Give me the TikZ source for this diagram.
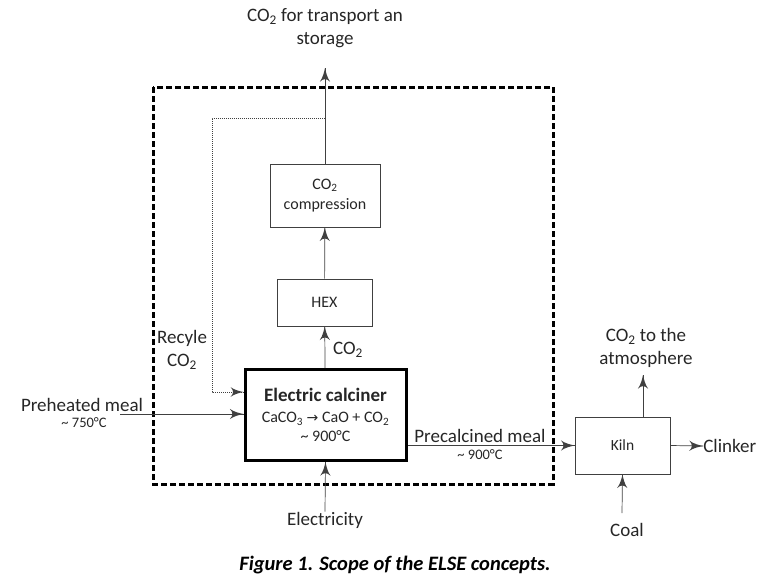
\documentclass[tikz,border=0pt]{standalone}
\usepackage{fontspec}
\setmainfont{Carlito}
\newfontfamily\symfont{DejaVu Sans}
\usetikzlibrary{arrows}
\usetikzlibrary{decorations.markings}
\usetikzlibrary{positioning}
\tikzset{->/.style = {decoration={markings,
                                  mark=at position 1 with {\arrow[scale=2.8]{latex'}}},
                      postaction={decorate}}}
\tikzset{unit/.style = {draw, rectangle, inner sep = 0, line width = 0.7pt,
                        font = \fontsize{16}{20}\selectfont, align = center}}
\tikzset{lbl/.style = {inner sep = 0, font = \fontsize{19}{23}\selectfont, align = center}}
\tikzset{temp/.style = {inner sep = 0, font = \fontsize{14.5}{17}\selectfont}}
\newcommand{\cotwo}{CO\textsubscript{2}}

\begin{document}
\begin{tikzpicture}[x=1pt, y=-1pt, line width=0.7pt, draw=black!75, text=black!85]
      \useasboundingbox (0,0) rectangle (768,584);
      % system boundary
      \draw [line width=3pt, draw=black, dash pattern=on 6pt off 3pt] (153,87) rectangle (553,484);
      % units
      \node [unit, line width=3pt, draw=black, minimum width=161, minimum height=91] (calc) at (325.5,415)
            {{\fontsize{19}{21}\selectfont\bfseries Electric calciner}\\[1pt]
             CaCO\textsubscript{3} {\symfont\fontsize{14}{16}\selectfont →} CaO + \cotwo\\[-1pt]
             \textasciitilde\ 900°C};
      \node [unit, minimum width=95, minimum height=47] (hex) at (324.5,302.5) {HEX};
      \node [unit, minimum width=110, minimum height=63] (comp) at (325,195.5) {\cotwo\\compression};
      \node [unit, minimum width=95, minimum height=57, font=\fontsize{15.5}{18}\selectfont] (kiln) at (622.5,445.5) {Kiln};
      % labels
      \node [lbl] (out) at (325,28) {\cotwo\ for transport an\\storage};
      \node [lbl] (recycle) at (182,350) {Recyle\\\cotwo};
      \node [lbl] (gas) at (348,350) {\cotwo};
      \node [lbl] (pre) at (82,405) {Preheated meal};
      \node [temp] (pretemp) at (84,423) {\textasciitilde\ 750°C};
      \node [lbl] (prec) at (480,436) {Precalcined meal};
      \node [temp] (prectemp) at (480,455) {\textasciitilde\ 900°C};
      \node [lbl] (atm) at (646,348) {\cotwo\ to the\\atmosphere};
      \node [lbl, anchor=west] (clinker) at (703,446) {Clinker};
      \node [lbl] (coal) at (627,530) {Coal};
      \node [lbl] (elec) at (325,520) {Electricity};
      \node [inner sep=0, font=\fontsize{20.5}{24}\selectfont\bfseries\itshape, text=black] (caption) at (395,565)
            {Figure 1. Scope of the ELSE concepts.};
      % free ends
      \coordinate (top) at (325,68);
      \coordinate (split) at (325,118);
      \coordinate (turn) at (212,392);
      \coordinate (feed) at (120,414);
      \coordinate (stack) at (643,375);
      \coordinate (fuel) at (622,513);
      % streams
      \draw [->] (calc) -- (hex);
      \draw [->] (hex) -- (comp);
      \draw [->] (comp) -- (top);
      \draw [->, line width=0.6pt, dash pattern=on 1pt off 1pt] (split) -| (turn) -- (turn -| calc.west);
      \draw [->] (feed) -- (feed -| calc.west);
      \draw [->] (kiln.west -| calc.east) -- (kiln.west);
      \draw [->] (stack |- kiln.north) -- (stack);
      \draw [->] (kiln.east) -- (clinker.west);
      \draw [->] (fuel) -- (kiln.south);
      \draw [->] (elec.north) -- (calc.south);
    \end{tikzpicture}
\end{document}
